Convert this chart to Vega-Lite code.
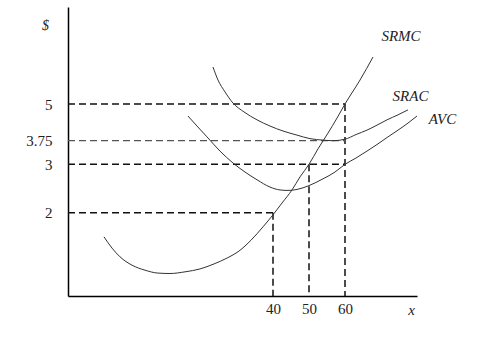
{
  "$schema": "https://vega.github.io/schema/vega-lite/v6.json",
  "width": 350,
  "height": 289,
  "autosize": {"type": "none"},
  "padding": {"left": 68, "top": 7, "right": 62, "bottom": 41},
  "background": "white",
  "config": {"view": {"stroke": null}, "font": "Liberation Serif"},
  "datasets": {
    "guides": [
      {"x": 0, "x2": 60, "y": 5, "y2": 5, "kind": "heavy"},
      {"x": 60, "x2": 60, "y": 5, "y2": 0, "kind": "heavy"},
      {"x": 0, "x2": 60, "y": 3.75, "y2": 3.75, "kind": "light"},
      {"x": 0, "x2": 60, "y": 3, "y2": 3, "kind": "heavy"},
      {"x": 50, "x2": 50, "y": 3, "y2": 0, "kind": "heavy"},
      {"x": 0, "x2": 40, "y": 2, "y2": 2, "kind": "heavy"},
      {"x": 40, "x2": 40, "y": 2, "y2": 0, "kind": "heavy"}
    ],
    "curves": [
      {"curve": "SRMC", "i": 1, "x": 7.02, "y": 1.42},
      {"curve": "SRMC", "i": 2, "x": 8.59, "y": 1.15},
      {"curve": "SRMC", "i": 3, "x": 10.15, "y": 0.94},
      {"curve": "SRMC", "i": 4, "x": 12.49, "y": 0.74},
      {"curve": "SRMC", "i": 5, "x": 15.02, "y": 0.62},
      {"curve": "SRMC", "i": 6, "x": 17.56, "y": 0.55},
      {"curve": "SRMC", "i": 7, "x": 19.9, "y": 0.54},
      {"curve": "SRMC", "i": 8, "x": 22.83, "y": 0.58},
      {"curve": "SRMC", "i": 9, "x": 25.76, "y": 0.65},
      {"curve": "SRMC", "i": 10, "x": 28.49, "y": 0.77},
      {"curve": "SRMC", "i": 11, "x": 31.02, "y": 0.91},
      {"curve": "SRMC", "i": 12, "x": 33.37, "y": 1.08},
      {"curve": "SRMC", "i": 13, "x": 35.71, "y": 1.34},
      {"curve": "SRMC", "i": 14, "x": 38.05, "y": 1.66},
      {"curve": "SRMC", "i": 15, "x": 40, "y": 1.95},
      {"curve": "SRMC", "i": 16, "x": 42.5, "y": 2.2},
      {"curve": "SRMC", "i": 17, "x": 45.28, "y": 2.47},
      {"curve": "SRMC", "i": 18, "x": 47.5, "y": 2.74},
      {"curve": "SRMC", "i": 19, "x": 50, "y": 3.0},
      {"curve": "SRMC", "i": 20, "x": 52.5, "y": 3.49},
      {"curve": "SRMC", "i": 21, "x": 55.28, "y": 4.01},
      {"curve": "SRMC", "i": 22, "x": 57.78, "y": 4.52},
      {"curve": "SRMC", "i": 23, "x": 60, "y": 5.0},
      {"curve": "SRMC", "i": 24, "x": 64.17, "y": 5.79},
      {"curve": "SRMC", "i": 25, "x": 67.78, "y": 6.55},
      {"curve": "SRAC", "i": 1, "x": 28.29, "y": 6.22},
      {"curve": "SRAC", "i": 2, "x": 29.27, "y": 5.79},
      {"curve": "SRAC", "i": 3, "x": 30.63, "y": 5.4},
      {"curve": "SRAC", "i": 4, "x": 32.2, "y": 5.03},
      {"curve": "SRAC", "i": 5, "x": 34.34, "y": 4.73},
      {"curve": "SRAC", "i": 6, "x": 36.88, "y": 4.46},
      {"curve": "SRAC", "i": 7, "x": 39.41, "y": 4.25},
      {"curve": "SRAC", "i": 8, "x": 42.78, "y": 4.08},
      {"curve": "SRAC", "i": 9, "x": 46.67, "y": 3.94},
      {"curve": "SRAC", "i": 10, "x": 50.28, "y": 3.82},
      {"curve": "SRAC", "i": 11, "x": 53.89, "y": 3.77},
      {"curve": "SRAC", "i": 12, "x": 56.67, "y": 3.75},
      {"curve": "SRAC", "i": 13, "x": 60, "y": 3.8},
      {"curve": "SRAC", "i": 14, "x": 63.06, "y": 3.96},
      {"curve": "SRAC", "i": 15, "x": 66.11, "y": 4.11},
      {"curve": "SRAC", "i": 16, "x": 68.89, "y": 4.28},
      {"curve": "SRAC", "i": 17, "x": 71.67, "y": 4.46},
      {"curve": "SRAC", "i": 18, "x": 74.72, "y": 4.63},
      {"curve": "SRAC", "i": 19, "x": 77.5, "y": 4.8},
      {"curve": "AVC", "i": 1, "x": 23.41, "y": 4.59},
      {"curve": "AVC", "i": 2, "x": 25.17, "y": 4.25},
      {"curve": "AVC", "i": 3, "x": 27.12, "y": 3.88},
      {"curve": "AVC", "i": 4, "x": 29.66, "y": 3.42},
      {"curve": "AVC", "i": 5, "x": 32.2, "y": 3.04},
      {"curve": "AVC", "i": 6, "x": 34.54, "y": 2.84},
      {"curve": "AVC", "i": 7, "x": 36.88, "y": 2.68},
      {"curve": "AVC", "i": 8, "x": 39.41, "y": 2.53},
      {"curve": "AVC", "i": 9, "x": 41.94, "y": 2.47},
      {"curve": "AVC", "i": 10, "x": 44.17, "y": 2.46},
      {"curve": "AVC", "i": 11, "x": 46.67, "y": 2.48},
      {"curve": "AVC", "i": 12, "x": 50, "y": 2.56},
      {"curve": "AVC", "i": 13, "x": 53.89, "y": 2.7},
      {"curve": "AVC", "i": 14, "x": 57.22, "y": 2.84},
      {"curve": "AVC", "i": 15, "x": 60, "y": 3.0},
      {"curve": "AVC", "i": 16, "x": 63.06, "y": 3.2},
      {"curve": "AVC", "i": 17, "x": 66.11, "y": 3.42},
      {"curve": "AVC", "i": 18, "x": 69.17, "y": 3.65},
      {"curve": "AVC", "i": 19, "x": 71.94, "y": 3.88},
      {"curve": "AVC", "i": 20, "x": 74.72, "y": 4.11},
      {"curve": "AVC", "i": 21, "x": 77.5, "y": 4.35},
      {"curve": "AVC", "i": 22, "x": 80, "y": 4.59}
    ],
    "labels": [
      {"text": "SRMC", "x": 75.56, "y": 7.24},
      {"text": "SRAC", "x": 78.19, "y": 5.26},
      {"text": "AVC", "x": 87.08, "y": 4.49}
    ]
  },
  "encoding": {
    "x": {
      "field": "x",
      "type": "quantitative",
      "scale": {"domain": [0, 40, 80], "range": [0, 205, 349], "nice": false, "zero": false},
      "axis": {
        "values": [40, 50, 60],
        "labelExpr": "'' + datum.value",
        "ticks": false,
        "grid": false,
        "domainColor": "#000",
        "domainWidth": 1.5,
        "labelFont": "Liberation Serif",
        "labelFontSize": 15,
        "labelColor": "#222",
        "labelPadding": 5,
        "labelDx": 2,
        "labelFlush": false,
        "labelOverlap": false,
        "title": "x",
        "titleFont": "Liberation Serif",
        "titleFontStyle": "italic",
        "titleFontWeight": "normal",
        "titleFontSize": 15,
        "titleColor": "#222",
        "titleX": 343,
        "titleY": 13,
        "titleAlign": "center",
        "titleBaseline": "middle"
      }
    },
    "y": {
      "field": "y",
      "type": "quantitative",
      "scale": {"domain": [0, 2, 3, 3.75, 5, 8.2], "range": [289, 205.7, 157.3, 133.7, 97, 0], "nice": false, "zero": false},
      "axis": {
        "values": [2, 3, 3.75, 5],
        "labelExpr": "'' + datum.value",
        "ticks": false,
        "grid": false,
        "domainColor": "#000",
        "domainWidth": 1.5,
        "labelFont": "Liberation Serif",
        "labelFontSize": 15,
        "labelColor": "#222",
        "labelPadding": 16,
        "labelFlush": false,
        "labelOverlap": false,
        "title": "$",
        "titleFont": "Liberation Serif",
        "titleFontStyle": "italic",
        "titleFontWeight": "normal",
        "titleFontSize": 14,
        "titleColor": "#222",
        "titleAngle": 0,
        "titleX": -23,
        "titleY": 18,
        "titleAlign": "center",
        "titleBaseline": "middle"
      }
    }
  },
  "layer": [
    {
      "data": {"name": "guides"},
      "transform": [{"filter": "datum.kind === 'heavy'"}],
      "mark": {"type": "rule", "color": "#111", "strokeWidth": 1.5, "strokeDash": [7, 4]},
      "encoding": {"x2": {"field": "x2"}, "y2": {"field": "y2"}}
    },
    {
      "data": {"name": "guides"},
      "transform": [{"filter": "datum.kind === 'light'"}],
      "mark": {"type": "rule", "color": "#555", "strokeWidth": 1.2, "strokeDash": [7, 4]},
      "encoding": {"x2": {"field": "x2"}, "y2": {"field": "y2"}}
    },
    {
      "data": {"name": "curves"},
      "mark": {"type": "line", "color": "#333", "strokeWidth": 1, "interpolate": "monotone"},
      "encoding": {"detail": {"field": "curve"}, "order": {"field": "i", "type": "quantitative"}}
    },
    {
      "data": {"name": "labels"},
      "mark": {"type": "text", "font": "Liberation Serif", "fontStyle": "italic", "fontSize": 15, "color": "#222", "align": "center", "baseline": "middle"},
      "encoding": {"text": {"field": "text"}}
    }
  ]
}
